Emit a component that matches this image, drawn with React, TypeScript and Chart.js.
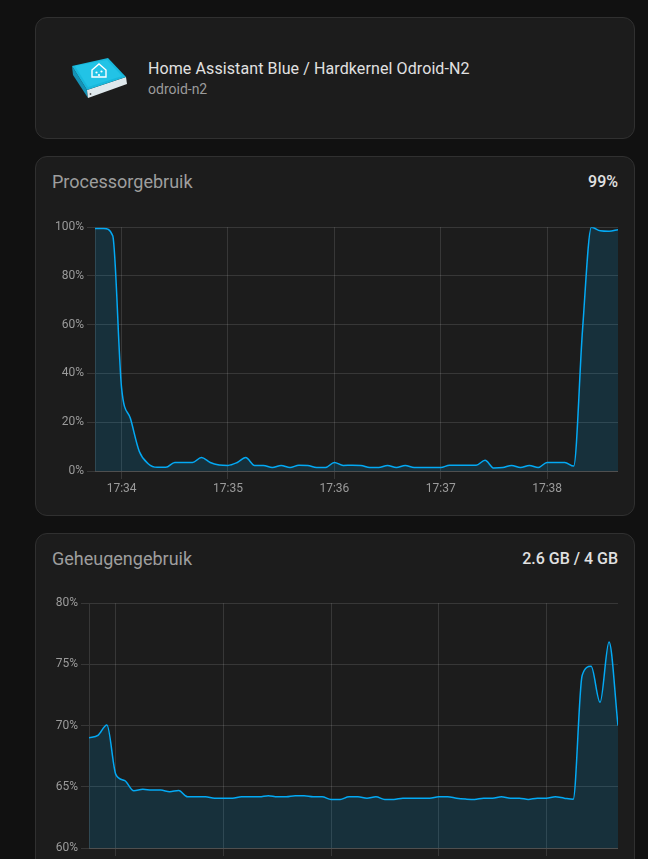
import React, { useEffect, useRef } from 'react';
import { Chart, registerables } from 'chart.js';

Chart.register(...registerables);
Chart.defaults.font.family = 'Roboto, "Noto Sans", sans-serif';

// ---- data ----
const sampleTimes = [
  '17:33:45', '17:33:50', '17:33:55',
  '17:34:00', '17:34:05', '17:34:10', '17:34:15', '17:34:20', '17:34:25',
  '17:34:30', '17:34:35', '17:34:40', '17:34:45', '17:34:50', '17:34:55',
  '17:35:00', '17:35:05', '17:35:10', '17:35:15', '17:35:20', '17:35:25',
  '17:35:30', '17:35:35', '17:35:40', '17:35:45', '17:35:50', '17:35:55',
  '17:36:00', '17:36:05', '17:36:10', '17:36:15', '17:36:20', '17:36:25',
  '17:36:30', '17:36:35', '17:36:40', '17:36:45', '17:36:50', '17:36:55',
  '17:37:00', '17:37:05', '17:37:10', '17:37:15', '17:37:20', '17:37:25',
  '17:37:30', '17:37:35', '17:37:40', '17:37:45', '17:37:50', '17:37:55',
  '17:38:00', '17:38:05', '17:38:10', '17:38:15', '17:38:20', '17:38:25',
  '17:38:30', '17:38:35', '17:38:40',
];

const cpuValues = [
  99.5, 99.5, 96.5, 34, 21.5, 8, 3, 1.5, 1.5, 3.5,
  3.5, 3.5, 5.5, 3.5, 2.5, 2.3, 3.4, 5.5, 2.3, 2.3,
  1.4, 2.3, 1.4, 2.4, 2.3, 1.4, 1.4, 3.5, 2.3, 2.4,
  2.3, 1.4, 1.4, 2.3, 1.4, 2.3, 1.4, 1.4, 1.4, 1.4,
  2.4, 2.4, 2.4, 2.4, 4.4, 1.2, 1.4, 2.3, 1.4, 2.3,
  1.4, 3.5, 3.5, 3.5, 2, 58, 100, 98.5, 98.3, 99,
];

const memValues = [
  69.0, 69.2, 70.05, 66.0, 65.5, 64.67, 64.8, 64.73, 64.73, 64.6,
  64.7, 64.18, 64.18, 64.18, 64.07, 64.07, 64.07, 64.18, 64.18, 64.18,
  64.27, 64.18, 64.18, 64.26, 64.26, 64.18, 64.18, 63.96, 63.96, 64.18,
  64.18, 64.07, 64.18, 63.96, 63.96, 64.07, 64.07, 64.07, 64.07, 64.18,
  64.18, 64.07, 64.0, 63.96, 64.07, 64.07, 64.18, 64.07, 64.07, 63.96,
  64.07, 64.07, 64.18, 64.07, 63.98, 74.1, 74.84, 71.9, 76.83, 70.0,
];

const timeTickLabels = ['17:34', '17:35', '17:36', '17:37', '17:38'];
const cpuTicks = [0, 20, 40, 60, 80, 100];
const memTicks = [60, 65, 70, 75, 80];

const deviceName = 'Home Assistant Blue / Hardkernel Odroid-N2';
const deviceModel = 'odroid-n2';
const cpuTitle = 'Processorgebruik';
const cpuCurrent = '99%';
const memTitle = 'Geheugengebruik';
const memCurrent = '2.6 GB / 4 GB';

// ---- styles ----
const LINE = 'rgb(3,169,244)';
const FILL = 'rgba(3,169,244,0.15)';
const GRID = 'rgba(255,255,255,0.12)';
const TICK = '#9b9b9b';

const toSec = (t: string) => {
  const p = t.split(':').map(Number);
  return p[0] * 3600 + p[1] * 60 + (p[2] || 0);
};
const fmtTime = (v: number) => {
  const h = Math.floor(v / 3600);
  const m = Math.floor((v % 3600) / 60);
  return `${h}:${String(m).padStart(2, '0')}`;
};

type LCProps = {
  values: number[];
  yTicks: number[];
  axisWidth: number;
  style: React.CSSProperties;
};

function LineChart({ values, yTicks, axisWidth, style }: LCProps) {
  const ref = useRef<HTMLCanvasElement>(null);
  useEffect(() => {
    const chart = new Chart(ref.current as HTMLCanvasElement, {
      type: 'line',
      data: {
        datasets: [
          {
            data: sampleTimes.map((t, i) => ({ x: toSec(t), y: values[i] })),
            borderColor: LINE,
            backgroundColor: FILL,
            borderWidth: 1.5,
            pointRadius: 0,
            fill: 'start',
            cubicInterpolationMode: 'monotone',
          },
        ],
      },
      options: {
        animation: false,
        responsive: true,
        maintainAspectRatio: false,
        layout: { padding: { top: 10, left: 0, right: 0, bottom: 0 } },
        plugins: { legend: { display: false }, tooltip: { enabled: false } },
        scales: {
          x: {
            type: 'linear',
            min: toSec(sampleTimes[0]),
            max: toSec(sampleTimes[sampleTimes.length - 1]),
            afterBuildTicks: (s: any) => {
              s.ticks = timeTickLabels.map((t) => ({ value: toSec(t) }));
            },
            afterFit: (s: any) => {
              s.height = 30;
            },
            ticks: {
              callback: (v: any) => fmtTime(Number(v)),
              color: TICK,
              font: { size: 12 },
              padding: 3,
              maxRotation: 0,
              autoSkip: false,
            },
            grid: { color: GRID, tickColor: GRID, tickLength: 8, drawTicks: true },
            border: { display: true, color: GRID },
          },
          y: {
            min: yTicks[0],
            max: yTicks[yTicks.length - 1],
            afterBuildTicks: (s: any) => {
              s.ticks = yTicks.map((v) => ({ value: v }));
            },
            afterFit: (s: any) => {
              s.width = axisWidth;
            },
            ticks: {
              callback: (v: any) => `${v}%`,
              color: TICK,
              font: { size: 12 },
              padding: 3,
            },
            grid: { color: GRID, tickColor: GRID, tickLength: 8, drawTicks: true },
            border: { display: true, color: GRID },
          },
        },
      },
    });
    return () => chart.destroy();
  }, []);
  return (
    <div style={{ position: 'absolute', ...style }}>
      <canvas ref={ref} />
    </div>
  );
}

const cardStyle = (top: number, height: number): React.CSSProperties => ({
  position: 'absolute',
  left: 35,
  top,
  width: 600,
  height,
  boxSizing: 'border-box',
  background: '#1c1c1c',
  border: '1px solid #303030',
  borderRadius: 12,
});

const abs = (left: number, top: number, extra: React.CSSProperties = {}): React.CSSProperties => ({
  position: 'absolute',
  left,
  top,
  whiteSpace: 'nowrap',
  ...extra,
});

function DeviceIcon() {
  return (
    <svg style={{ position: 'absolute', left: 68, top: 54 }} width="64" height="48" viewBox="68 54 64 48">
      {/* left dark side */}
      <polygon points="72,66 87,90 88,98 73,75" fill="#1592b5" />
      {/* front white strip */}
      <polygon points="87,90 126,77 127,84 88,98" fill="#dfe8ec" />
      {/* top face */}
      <polygon points="72,66 108,58 126,77 87,90" fill="#18b8dc" />
      <polygon points="75,66 107,60 122,76 88,87" fill="#22c3e6" />
      {/* house logo */}
      <polygon points="92,70 99,64 106,70 106,77 92,77" fill="none" stroke="#ffffff" strokeWidth="1.4" />
      <circle cx="96.5" cy="72.5" r="1.1" fill="#fff" />
      <circle cx="101.5" cy="71.5" r="1.1" fill="#fff" />
      <circle cx="99" cy="75" r="1.1" fill="#fff" />
      <circle cx="90.5" cy="94" r="0.9" fill="#555" />
    </svg>
  );
}

export default function App() {
  return (
    <div
      style={{
        position: 'fixed',
        inset: 0,
        background: '#111111',
        overflow: 'hidden',
        fontFamily: 'Roboto, "Noto Sans", sans-serif',
      }}
    >
      <div style={cardStyle(17, 122)} />
      <DeviceIcon />
      <div style={abs(148, 59, { fontSize: 16, lineHeight: '20px', color: '#e1e1e1', letterSpacing: '0.1px' })}>{deviceName}</div>
      <div style={abs(148, 78.5, { fontSize: 14, lineHeight: '20px', color: '#9b9b9b' })}>{deviceModel}</div>

      <div style={cardStyle(156, 360)} />
      <div style={abs(52, 170, { fontSize: 18, lineHeight: '24px', color: '#9e9e9e' })}>{cpuTitle}</div>
      <div style={abs(0, 170, { width: 618, textAlign: 'right', fontSize: 16, fontWeight: 500, lineHeight: '24px', color: '#e1e1e1' })}>{cpuCurrent}</div>
      <LineChart values={cpuValues} yTicks={cpuTicks} axisWidth={43} style={{ left: 52, top: 217, width: 566, height: 284 }} />

      <div style={cardStyle(533, 400)} />
      <div style={abs(52, 546.5, { fontSize: 18, lineHeight: '24px', color: '#9e9e9e' })}>{memTitle}</div>
      <div style={abs(0, 546.5, { width: 618, textAlign: 'right', fontSize: 16, fontWeight: 500, lineHeight: '24px', color: '#e1e1e1' })}>{memCurrent}</div>
      <LineChart values={memValues} yTicks={memTicks} axisWidth={37} style={{ left: 52, top: 593, width: 566, height: 285 }} />
    </div>
  );
}
